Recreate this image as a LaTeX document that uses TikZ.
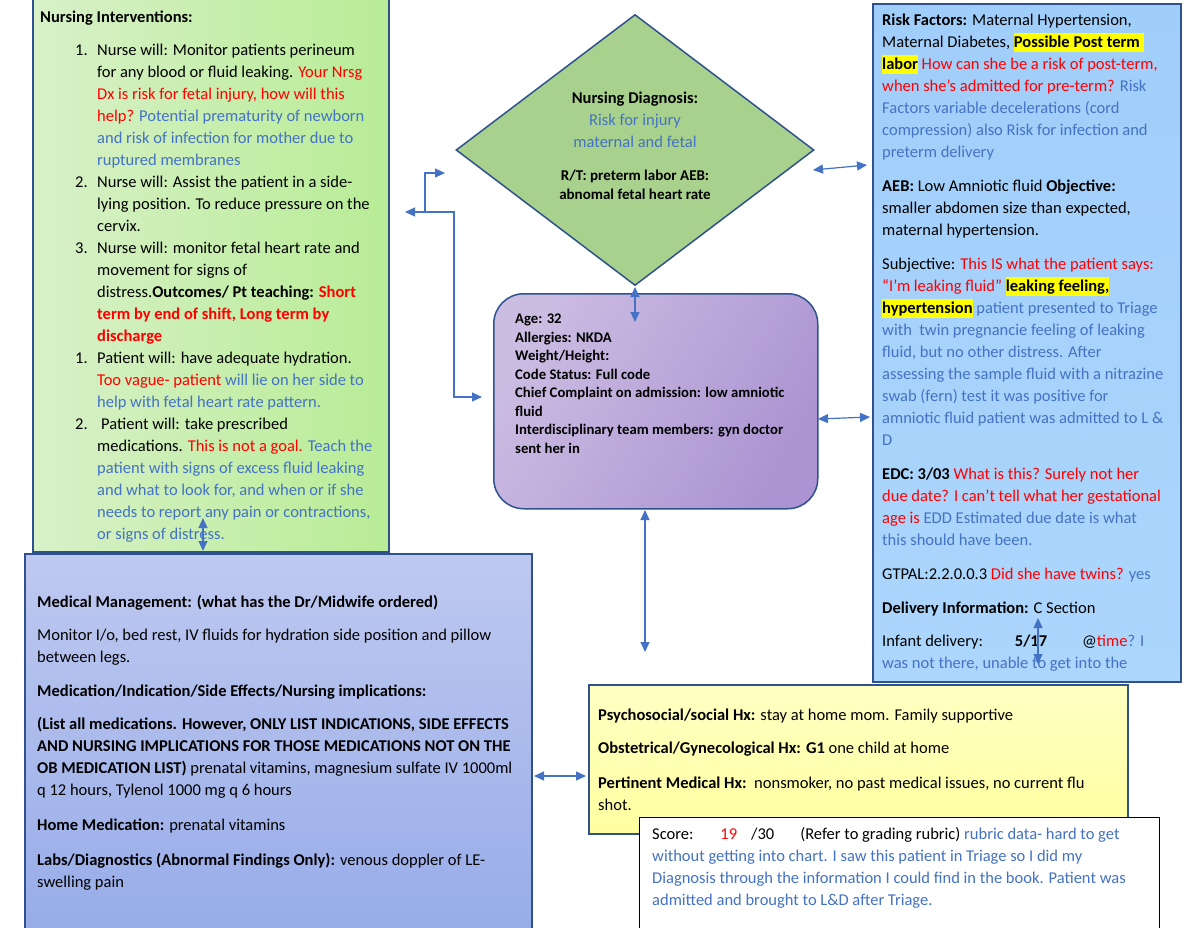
\documentclass[tikz,border=0pt]{standalone}
\usepackage{fontspec}
\setmainfont{Carlito}
\usetikzlibrary{positioning,arrows.meta,shapes.geometric}

\definecolor{edgeblue}{RGB}{47,82,143}
\definecolor{linkblue}{RGB}{68,114,196}
\definecolor{txtred}{RGB}{255,0,0}
\definecolor{txtblue}{RGB}{68,114,196}
\definecolor{hlyel}{RGB}{255,255,0}
\definecolor{grnL}{RGB}{216,241,200}
\definecolor{grnR}{RGB}{184,236,150}
\definecolor{medT}{RGB}{190,201,240}
\definecolor{medB}{RGB}{150,171,232}
\definecolor{purL}{RGB}{203,188,226}
\definecolor{purR}{RGB}{172,148,210}
\definecolor{riskT}{RGB}{160,206,250}
\definecolor{riskB}{RGB}{172,214,252}
\definecolor{yelT}{RGB}{255,255,195}
\definecolor{yelB}{RGB}{255,255,160}
\definecolor{dxgreen}{RGB}{169,209,142}

\newcommand{\redtx}[1]{\textcolor{txtred}{#1}}
\newcommand{\bluetx}[1]{\textcolor{txtblue}{#1}}
\newcommand{\hilite}[1]{{\fboxsep=0pt\colorbox{hlyel}{\rule[-4.5pt]{0pt}{19pt}#1}}}
\newcommand{\numit}[1]{\hspace*{35pt}\makebox[22pt][l]{#1}}
\newcommand{\contit}{\hspace*{57pt}}

\begin{document}
\begin{tikzpicture}[x=1pt, y=-1pt,
        box/.style={draw=edgeblue, line width=1.5pt, anchor=north west, inner sep=0pt},
        txt/.style={anchor=base west, align=left, inner sep=0pt, font=\fontsize{16.5}{22}\selectfont},
        link/.style={draw=linkblue, line width=1.2pt, <->, >={Triangle[length=10pt,width=9pt]}}
    ]
        \fill[white] (0,0) rectangle (1200,927);
        \useasboundingbox (0,0) rectangle (1200,927);

        % boxes
        \node[box, left color=grnL, right color=grnR, minimum width=356pt, minimum height=555pt] (interv) at (32,-4) {};
        \node[box, top color=medT, bottom color=medB, minimum width=507pt, minimum height=390pt] (medmgmt) at (24,553) {};
        \node[diamond, draw=edgeblue, line width=1.5pt, fill=dxgreen, minimum width=358pt, minimum height=271pt, inner sep=0pt] (dx) at (635,150) {};
        \node[box, rounded corners=30pt, shading=axis, left color=purL, right color=purR, shading angle=60, minimum width=324pt, minimum height=215pt] (patient) at (493,293) {};
        \node[box, top color=riskT, bottom color=riskB, minimum width=308pt, minimum height=678pt] (risk) at (872,3) {};
        \node[box, top color=yelT, bottom color=yelB, minimum width=539pt, minimum height=149pt] (history) at (588,684) {};
        \node[box, draw=black, line width=1pt, fill=white, minimum width=520pt, minimum height=130pt] (score) at (639,817) {};

        % texts (placed by the baseline of their last line)
        \node[txt] (intervtext) at (40,539) {\textbf{Nursing Interventions:}\\[11pt]
            \numit{1.}Nurse will: Monitor patients perineum\\
            \contit for any blood or fluid leaking. \redtx{Your Nrsg}\\
            \contit\redtx{Dx is risk for fetal injury, how will this}\\
            \contit\redtx{help?} \bluetx{Potential prematurity of newborn}\\
            \contit\bluetx{and risk of infection for mother due to}\\
            \contit\bluetx{ruptured membranes}\\
            \numit{2.}Nurse will: Assist the patient in a side-\\
            \contit lying position. To reduce pressure on the\\
            \contit cervix.\\
            \numit{3.}Nurse will: monitor fetal heart rate and\\
            \contit movement for signs of\\
            \contit distress.\textbf{Outcomes/ Pt teaching:} \redtx{\textbf{Short}}\\
            \contit\redtx{\textbf{term by end of shift, Long term by}}\\
            \contit\redtx{\textbf{discharge}}\\
            \numit{1.}Patient will: have adequate hydration.\\
            \contit\redtx{Too vague- patient} \bluetx{will lie on her side to}\\
            \contit\bluetx{help with fetal heart rate pattern.}\\
            \numit{2.}\hspace*{4pt}Patient will: take prescribed\\
            \contit medications. \redtx{This is not a goal.} \bluetx{Teach the}\\
            \contit\bluetx{patient with signs of excess fluid leaking}\\
            \contit\bluetx{and what to look for, and when or if she}\\
            \contit\bluetx{needs to report any pain or contractions,}\\
            \contit\bluetx{or signs of distress.}};

        \node[txt, anchor=base, align=center] (dxtext) at (635,199) {\textbf{Nursing Diagnosis:}\\
            \bluetx{Risk for injury}\\
            \bluetx{maternal and fetal}\\[11pt]
            {\fontsize{15}{19}\selectfont\textbf{R/T: preterm labor AEB:}}\\[-3pt]
            {\fontsize{15}{19}\selectfont\textbf{abnomal fetal heart rate}}};

        \node[txt, font=\fontsize{14.7}{18.5}\selectfont\bfseries] (patienttext) at (515,453) {Age: 32\\
            Allergies: NKDA\\
            Weight/Height:\\
            Code Status: Full code\\
            Chief Complaint on admission: low amniotic\\
            fluid\\
            Interdisciplinary team members: gyn doctor\\
            sent her in};

        \node[txt] (risktext) at (882,668) {\textbf{Risk Factors:} Maternal Hypertension,\\
            Maternal Diabetes, \hilite{\textbf{Possible Post term }}\\
            \hilite{\textbf{labor}} \redtx{How can she be a risk of post-term,}\\
            \redtx{when she’s admitted for pre-term?} \bluetx{Risk}\\
            \bluetx{Factors variable decelerations (cord}\\
            \bluetx{compression) also Risk for infection and}\\
            \bluetx{preterm delivery}\\[12pt]
            \textbf{AEB:} Low Amniotic fluid \textbf{Objective:}\\
            smaller abdomen size than expected,\\
            maternal hypertension.\\[12pt]
            Subjective: \redtx{This IS what the patient says:}\\
            \redtx{“I’m leaking fluid”} \hilite{\textbf{leaking feeling,}}\\
            \hilite{\textbf{hypertension}} \bluetx{patient presented to Triage}\\
            \bluetx{with\ \ twin pregnancie feeling of leaking}\\
            \bluetx{fluid, but no other distress. After}\\
            \bluetx{assessing the sample fluid with a nitrazine}\\
            \bluetx{swab (fern) test it was positive for}\\
            \bluetx{amniotic fluid patient was admitted to L \&}\\
            \bluetx{D}\\[12pt]
            \textbf{EDC: 3/03} \redtx{What is this? Surely not her}\\
            \redtx{due date? I can’t tell what her gestational}\\
            \redtx{age is} \bluetx{EDD Estimated due date is what}\\
            \bluetx{this should have been.}\\[12pt]
            GTPAL:2.2.0.0.3 \redtx{Did she have twins?} \bluetx{yes}\\[12pt]
            \textbf{Delivery Information:} C Section\\[11pt]
            Infant delivery:\hspace{32pt}\textbf{5/17}\hspace{35pt}@\redtx{time}\bluetx{? I}\\
            \bluetx{was not there, unable to get into the}};

        \node[txt] (medtext) at (37,887) {\textbf{Medical Management: (what has the Dr/Midwife ordered)}\\[11pt]
            Monitor I/o, bed rest, IV fluids for hydration side position and pillow\\
            between legs.\\[12pt]
            \textbf{Medication/Indication/Side Effects/Nursing implications:}\\[11pt]
            \textbf{(List all medications. However, ONLY LIST INDICATIONS, SIDE EFFECTS}\\
            \textbf{AND NURSING IMPLICATIONS FOR THOSE MEDICATIONS NOT ON THE}\\
            \textbf{OB MEDICATION LIST)} prenatal vitamins, magnesium sulfate IV 1000ml\\
            q 12 hours, Tylenol 1000 mg q 6 hours\\[13pt]
            \textbf{Home Medication:} prenatal vitamins\\[13pt]
            \textbf{Labs/Diagnostics (Abnormal Findings Only):} venous doppler of LE-\\
            swelling pain};

        \node[txt] (historytext) at (598,810) {\textbf{Psychosocial/social Hx:} stay at home mom. Family supportive\\[11pt]
            \textbf{Obstetrical/Gynecological Hx: G1} one child at home\\[13pt]
            \textbf{Pertinent Medical Hx:}\ \ nonsmoker, no past medical issues, no current flu\\
            shot.};

        \node[txt] (scoretext) at (652,905) {Score:\hspace{27pt}\redtx{19}\hspace{14pt}/30\hspace{26pt}(Refer to grading rubric) \bluetx{rubric data- hard to get}\\
            \bluetx{without getting into chart. I saw this patient in Triage so I did my}\\
            \bluetx{Diagnosis through the information I could find in the book. Patient was}\\
            \bluetx{admitted and brought to L\&D after Triage.}};

        % connector ends
        \coordinate (intervTip) at (405,212);
        \coordinate (patientTipL) at (482,397);
        \coordinate (dxTipL) at (445,173);
        \coordinate (dxTipB) at (635,287);
        \coordinate (patientTipT) at (635,322);
        \coordinate (dxTipR) at (813,170);
        \coordinate (riskTipA) at (867,165);
        \coordinate (patientTipR) at (818,419);
        \coordinate (riskTipB) at (870,417);
        \coordinate (patientTipD) at (645,510);
        \coordinate (lowTip) at (645,652);
        \coordinate (intervTipD) at (203,518);
        \coordinate (medTipU) at (203,551);
        \coordinate (medTipR) at (534,776);
        \coordinate (historyTip) at (586,776);
        \coordinate (riskTipU) at (1038,618);
        \coordinate (riskTipD) at (1038,664);

        \draw[link] (intervTip) -| ([xshift=-28pt]patientTipL) -- (patientTipL);
        \draw[link, ->] ([xshift=20pt]intervTip) |- (dxTipL);
        \draw[link] (dxTipB) -- (patientTipT);
        \draw[link] (dxTipR) -- (riskTipA);
        \draw[link] (patientTipR) -- (riskTipB);
        \draw[link] (patientTipD) -- (lowTip);
        \draw[link] (intervTipD) -- (medTipU);
        \draw[link] (medTipR) -- (historyTip);
        \draw[link] (riskTipU) -- (riskTipD);
    \end{tikzpicture}
\end{document}
